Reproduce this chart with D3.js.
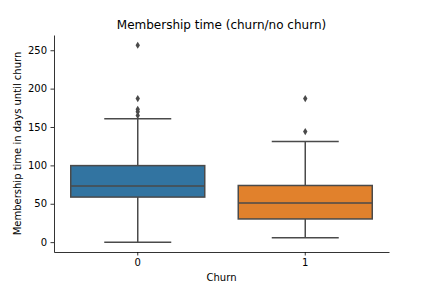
<!DOCTYPE html>
<html lang="en">
<head>
  <meta charset="UTF-8">
  <title>Membership time (churn/no churn)</title>
  <script src="https://cdn.jsdelivr.net/npm/d3@7"></script>
  <style>
    body { margin: 0; background: #fff; }
    text { font-family: "DejaVu Sans", sans-serif; }
  </style>
</head>
<body>
  <svg width="432" height="288"></svg>
  <script>
    // values
    var categories = ["0", "1"];
    var q1 = [58.7, 30.2];
    var medians = [73, 51];
    var q3 = [99.7, 73.8];
    var whiskerLow = [0, 5.6];
    var whiskerHigh = [160.6, 131];
    var outliers = [[256.5, 187, 173, 170, 165], [187, 144]];
    var colors = ["#3274a1", "#e1812c"];
    var yTicks = [0, 50, 100, 150, 200, 250];

    var svg = d3.select("svg");
    var mLeft = 54, mRight = 389, mTop = 35, mBottom = 252;
    var lineColor = "#4a4a4a";

    var x = d3.scaleBand().domain(categories).range([mLeft, mRight]).padding(0);
    var y = d3.scaleLinear().domain([-12.85, 269.85]).range([mBottom, mTop]);

    var boxW = x.bandwidth() * 0.8;

    var data = categories.map((c, i) => ({
      cat: c, q1: q1[i], med: medians[i], q3: q3[i],
      lo: whiskerLow[i], hi: whiskerHigh[i], out: outliers[i], color: colors[i]
    }));

    var g = svg.selectAll(".box").data(data).enter().append("g").attr("class", "box");
    var cx = d => x(d.cat) + x.bandwidth() / 2;

    // whiskers
    g.append("line")
      .attr("x1", cx).attr("x2", cx)
      .attr("y1", d => y(d.q3)).attr("y2", d => y(d.hi))
      .attr("stroke", lineColor).attr("stroke-width", 1.5);
    g.append("line")
      .attr("x1", cx).attr("x2", cx)
      .attr("y1", d => y(d.q1)).attr("y2", d => y(d.lo))
      .attr("stroke", lineColor).attr("stroke-width", 1.5);
    // caps
    g.append("line")
      .attr("x1", d => cx(d) - boxW / 4).attr("x2", d => cx(d) + boxW / 4)
      .attr("y1", d => y(d.hi)).attr("y2", d => y(d.hi))
      .attr("stroke", lineColor).attr("stroke-width", 1.5);
    g.append("line")
      .attr("x1", d => cx(d) - boxW / 4).attr("x2", d => cx(d) + boxW / 4)
      .attr("y1", d => y(d.lo)).attr("y2", d => y(d.lo))
      .attr("stroke", lineColor).attr("stroke-width", 1.5);
    // box
    g.append("rect")
      .attr("x", d => cx(d) - boxW / 2)
      .attr("width", boxW)
      .attr("y", d => y(d.q3))
      .attr("height", d => y(d.q1) - y(d.q3))
      .attr("fill", d => d.color)
      .attr("stroke", lineColor).attr("stroke-width", 1.5);
    // median
    g.append("line")
      .attr("x1", d => cx(d) - boxW / 2).attr("x2", d => cx(d) + boxW / 2)
      .attr("y1", d => y(d.med)).attr("y2", d => y(d.med))
      .attr("stroke", lineColor).attr("stroke-width", 1.5);
    // outliers (thin diamonds)
    g.selectAll(".flier")
      .data(d => d.out.map(v => ({ v: v, cat: d.cat })))
      .enter().append("path")
      .attr("class", "flier")
      .attr("d", "M0,-3.6L2.2,0L0,3.6L-2.2,0Z")
      .attr("transform", d => "translate(" + cx(d) + "," + y(d.v) + ")")
      .attr("fill", lineColor);

    // axes
    var yAxis = svg.append("g")
      .attr("transform", "translate(" + mLeft + ",0)")
      .call(d3.axisLeft(y).tickValues(yTicks).tickSize(3.5).tickSizeOuter(0).tickPadding(3.5));
    var xAxis = svg.append("g")
      .attr("transform", "translate(0," + mBottom + ")")
      .call(d3.axisBottom(x).tickSize(3.5).tickSizeOuter(0).tickPadding(3.5));
    [xAxis, yAxis].forEach(a => {
      a.selectAll("text").attr("font-size", 10).attr("fill", "#000")
        .style("font-family", "DejaVu Sans");
      a.selectAll("line").attr("stroke", "#000").attr("stroke-width", 0.8);
      a.select(".domain").attr("stroke", "#000").attr("stroke-width", 0.8);
    });

    // titles
    svg.append("text")
      .attr("x", (mLeft + mRight) / 2).attr("y", 29)
      .attr("text-anchor", "middle").attr("font-size", 12)
      .text("Membership time (churn/no churn)");
    svg.append("text")
      .attr("x", (mLeft + mRight) / 2).attr("y", 281)
      .attr("text-anchor", "middle").attr("font-size", 10)
      .text("Churn");
    svg.append("text")
      .attr("transform", "translate(21," + (mTop + mBottom) / 2 + ") rotate(-90)")
      .attr("text-anchor", "middle").attr("font-size", 10)
      .text("Membership time in days until churn");
  </script>
</body>
</html>
